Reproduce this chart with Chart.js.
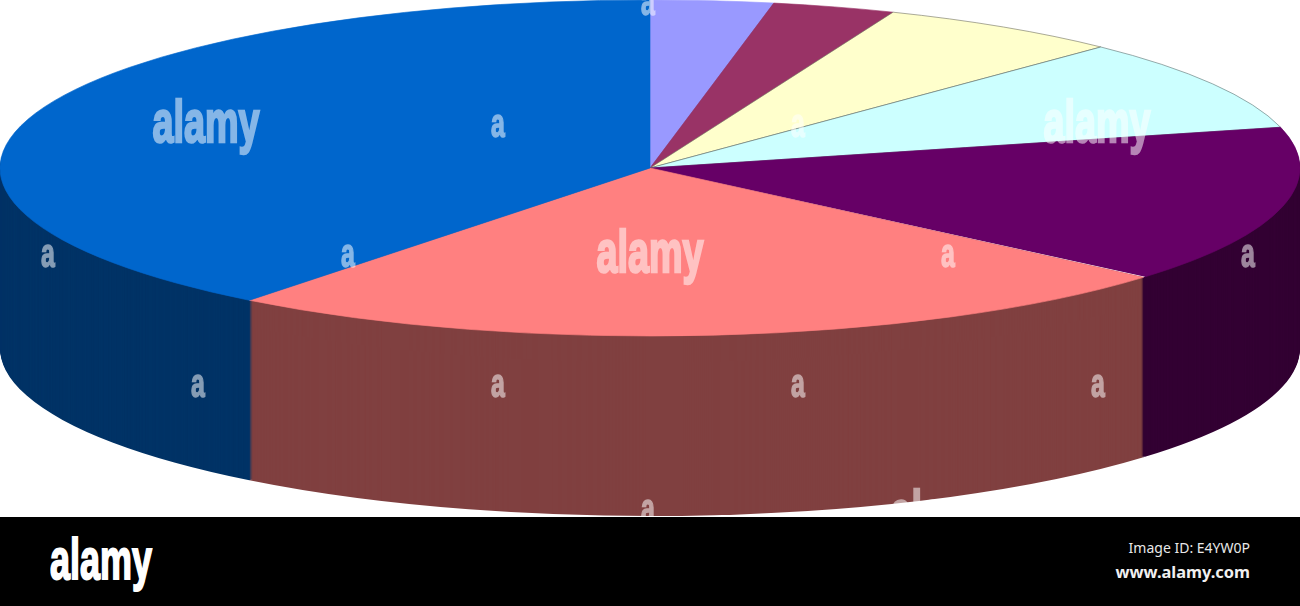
<!DOCTYPE html>
<html>
<head>
<meta charset="utf-8">
<style>
    body { margin: 0; background: #fff; width: 1300px; height: 606px; overflow: hidden; position: relative; }
    #pie { position: absolute; left: 0; top: 0; }
    .mark { position: absolute; color: #fff; opacity: 0.52; font-family: "Liberation Sans", sans-serif; font-weight: bold; line-height: 1; }
    .big { font-size: 60px; -webkit-text-stroke: 2.5px #fff; transform: translate(-50%, calc(-50% - 3px)) scaleX(0.63); }
    .small { font-size: 40px; -webkit-text-stroke: 1.5px #fff; transform: translate(-50%, calc(-50% - 2px)) scaleX(0.62); }
    #bar { position: absolute; left: 0; top: 517px; width: 1300px; height: 89px; background: #000; color: #fff; }
    #logo { position: absolute; left: 50px; top: 12px; font: bold 58px/60px "Liberation Sans", sans-serif; -webkit-text-stroke: 2px #fff; transform-origin: left center; transform: scaleX(0.62); }
    #imageid { position: absolute; right: 50px; top: 22px; font: 14px/18px "Noto Sans", sans-serif; color: #e8e8e8; }
    #site { position: absolute; right: 50px; top: 45px; font: bold 16.4px/20px "Noto Sans", sans-serif; color: #f0f0f0; }
</style>
</head>
<body>
<canvas id="pie" width="1300" height="517"></canvas>
<div id="marks"></div>
<div id="bar">
    <div id="logo">alamy</div>
    <div id="imageid">Image ID: E4YW0P</div>
    <div id="site">www.alamy.com</div>
</div>

<script src="https://cdn.jsdelivr.net/npm/chart.js"></script>
<script>
const sliceNames = ['A', 'B', 'C', 'D', 'E', 'F', 'G', 'H'];
const sliceValues = [3.05, 3.05, 6.1, 8.9, 15.12, 0.06, 24.29, 39.43];
const topColors = ['#9999FF', '#993366', '#FFFFCC', '#CCFFFF', '#660066', '#FFFFFF', '#FF8080', '#0066CC'];
const edgeColors = ['#9999FF', '#993366', '#777766', '#667777', '#660066', 'rgba(255,255,255,0)', '#FF8080', '#0066CC'];
const wallColors = ['#4D4D80', '#4D1A33', '#808066', '#668080', '#330033', '#330033', '#804040', '#003366'];
const bigMarks = [[206, 125], [1097, 125], [650, 255], [944, 515]];
const smallMarks = [[498, 125], [798, 125], [648, 3], [48, 255], [348, 255], [948, 255], [1248, 255],
    [198, 385], [498, 385], [798, 385], [1098, 385], [648, 510]];

const centerY = 168;
const radiusX = 650;
const radiusY = 168;
const depth = 180;

function addMark(text, pos, cls) {
    const el = document.createElement('span');
    el.className = 'mark ' + cls;
    el.textContent = text;
    el.style.left = pos[0] + 'px';
    el.style.top = pos[1] + 'px';
    document.getElementById('marks').appendChild(el);
}
bigMarks.forEach(p => addMark('alamy', p, 'big'));
smallMarks.forEach(p => addMark('a', p, 'small'));

function squash(ctx, arc, drop) {
    ctx.translate(0, centerY + drop);
    ctx.scale(1, radiusY / radiusX);
    ctx.translate(0, -arc.y);
}

// tilt the pie and stack darker copies under it for the side wall
const tiltPlugin = {
    id: 'tilt',
    beforeDatasetsDraw(chart) {
        const ctx = chart.ctx;
        const arcs = chart.getDatasetMeta(0).data;
        for (let drop = depth; drop > 0; drop--) {
            arcs.forEach((arc, i) => {
                const saved = arc.options;
                const wall = Object.create(saved);
                wall.backgroundColor = wallColors[i];
                wall.borderWidth = 0;
                arc.options = wall;
                ctx.save();
                squash(ctx, arc, drop);
                arc.draw(ctx);
                ctx.restore();
                arc.options = saved;
            });
        }
        ctx.save();
        squash(ctx, arcs[0], 0);
    },
    afterDatasetsDraw(chart) {
        chart.ctx.restore();
    }
};

new Chart(document.getElementById('pie').getContext('2d'), {
    type: 'pie',
    data: {
        labels: sliceNames,
        datasets: [{
            data: sliceValues,
            backgroundColor: topColors,
            borderColor: edgeColors,
            borderWidth: 1,
            clip: false
        }]
    },
    options: {
        responsive: false,
        animation: false,
        radius: radiusX,
        layout: { padding: 0 },
        plugins: { legend: { display: false }, tooltip: { enabled: false } },
        events: []
    },
    plugins: [tiltPlugin]
});
</script>
</body>
</html>
